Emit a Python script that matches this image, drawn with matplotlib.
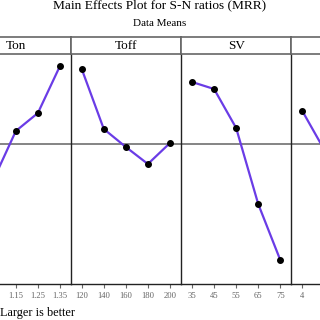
import matplotlib
matplotlib.use("Agg")
import matplotlib.pyplot as plt
import numpy as np

plt.rcParams['font.family'] = ['Liberation Serif', 'DejaVu Serif']

factors = ["Ton", "Toff", "SV", ""]
ton_levels = ["1.05", "1.15", "1.25", "1.35"]
ton_sn = [-19.75, -17.35, -16.45, -14.10]
toff_levels = ["120", "140", "160", "180", "200"]
toff_sn = [-14.25, -17.25, -18.15, -19.0, -17.95]
sv_levels = ["35", "45", "55", "65", "75"]
sv_sn = [-14.9, -15.25, -17.2, -21.0, -23.8]
f4_levels = ["4", "5"]
f4_sn = [-16.35, -18.3]
grand_mean = -18.0

levels = [ton_levels, toff_levels, sv_levels, f4_levels]
values = [ton_sn, toff_sn, sv_sn, f4_sn]
n_slots = 5

W = H = 320
fig = plt.figure(figsize=(3.2, 3.2), dpi=100)

panel_w = 110.3
lefts = [-39.3, 70.7, 181.0, 291.3]
top_px, bot_px, head_px = 54, 284, 37

line_col = '#6a3ce6'
axes = []
for i in range(4):
    l = lefts[i] / W
    ax = fig.add_axes([l, (H - bot_px) / H, panel_w / W, (bot_px - top_px) / H])
    axes.append(ax)
    lv, vals = levels[i], values[i]
    if i == 3:
        x = np.arange(len(lv))
    else:
        x = np.arange(n_slots - len(lv), n_slots)
    ax.plot(x, vals, color=line_col, lw=1.6, zorder=3)
    ax.plot(x, vals, 'o', color='black', ms=4, zorder=4)
    ax.axhline(grand_mean, color='#707070', lw=1.2, zorder=1)
    ax.set_xlim(-0.5, n_slots - 0.5)
    ax.set_ylim(-25.0, -13.5)
    ax.set_xticks(x)
    ax.set_xticklabels(lv)
    ax.set_yticks([])
    ax.tick_params(axis='x', length=3, width=0.8, colors='#666666',
                   labelsize=6.2, pad=3, direction='out')
    for s in ['top', 'right']:
        ax.spines[s].set_visible(False)
    ax.spines['bottom'].set_color('#222222')
    ax.spines['bottom'].set_linewidth(1.0)
    ax.spines['left'].set_color('#222222')
    ax.spines['left'].set_linewidth(1.0)
    if i == 0:
        ax.spines['left'].set_visible(False)

    hax = fig.add_axes([l, (H - top_px) / H, panel_w / W, (top_px - head_px) / H])
    hax.set_xticks([]); hax.set_yticks([])
    for s in hax.spines.values():
        s.set_color('#666666'); s.set_linewidth(1.2)
    hax.text(0.5, 0.45, factors[i], ha='center', va='center', fontsize=9.5,
             transform=hax.transAxes)

fig.text(0.5, 1 - 5 / H, "Main Effects Plot for S-N ratios (MRR)", ha='center',
         va='center', fontsize=9.6)
fig.text(0.5, 1 - 23 / H, "Data Means", ha='center', va='center', fontsize=8)
fig.text(0.5 / W, 1 - 313 / H, "Larger is better", ha='left', va='center', fontsize=8.8)

# hide tick labels that fall outside the visible figure area
fig.canvas.draw()
r = fig.canvas.get_renderer()
for ax in axes:
    for t in ax.get_xticklabels():
        bb = t.get_window_extent(r)
        if bb.x0 < 0 or bb.x1 > W:
            t.set_visible(False)

fig.savefig("out.png", dpi=100)
